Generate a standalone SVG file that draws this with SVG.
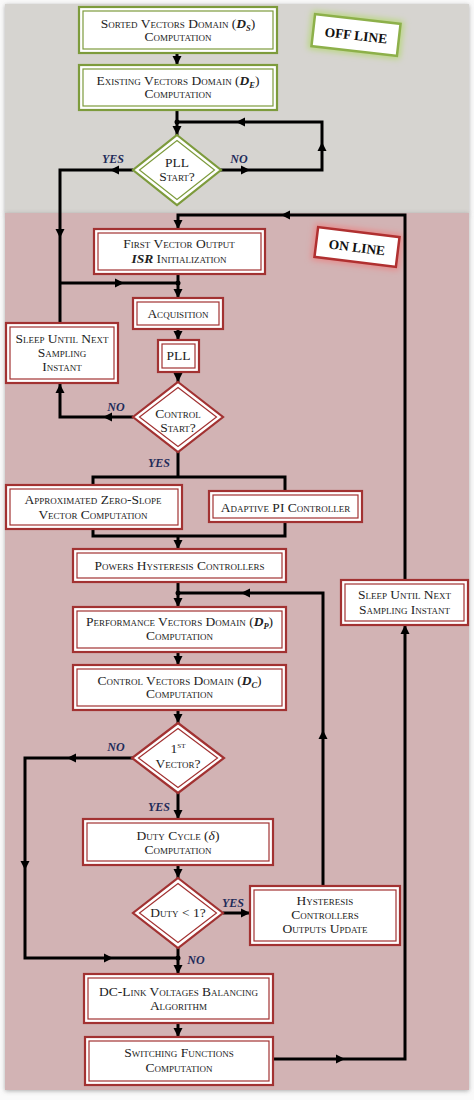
<svg xmlns="http://www.w3.org/2000/svg" xmlns:xlink="http://www.w3.org/1999/xlink" width="474" height="1100" viewBox="0 0 474 1100">
<style>
.t{font-family:"Liberation Serif","Times New Roman",serif;font-size:13.5px;font-variant:small-caps;text-anchor:middle;fill:#222}
.lb{font-family:"Liberation Serif","Times New Roman",serif;font-size:12px;font-weight:bold;font-style:italic;fill:#1f2b5a;text-anchor:middle}
.tag{font-family:"Liberation Serif","Times New Roman",serif;font-size:13.5px;font-weight:bold;text-anchor:middle;fill:#111}
.go{fill:#fff;stroke:#7d9b3c;stroke-width:2.2}
.gi{fill:none;stroke:#7d9b3c;stroke-width:1.2}
.ro{fill:#fff;stroke:#a23232;stroke-width:2.2}
.ri{fill:none;stroke:#a23232;stroke-width:1.2}
.w{fill:none;stroke:#000;stroke-width:3;stroke-linejoin:miter}
.bi{font-weight:bold;font-style:italic}
.nv{font-variant:normal}
</style>
<defs>
<path id="ar" d="M0,0 L-9,-4.5 L-9,4.5 Z" fill="#000"/>
<filter id="sh" x="-5%" y="-5%" width="110%" height="110%"><feDropShadow dx="0" dy="1" stdDeviation="2" flood-color="#777" flood-opacity="0.6"/></filter>
<filter id="bl" x="-30%" y="-30%" width="160%" height="160%"><feGaussianBlur stdDeviation="3"/></filter>
</defs>
<rect x="0" y="0" width="474" height="1100" fill="#fafafa"/>
<g id="panels">
<rect x="5" y="4" width="464" height="210" fill="#d6d4d0" filter="url(#sh)"/>
<rect x="5" y="213" width="464" height="877" fill="#d2b3b4" filter="url(#sh)"/>
</g>
<g id="offline">
<g transform="translate(356,35) rotate(6.5)">
<rect x="-46" y="-19" width="92" height="38" fill="#b7d77a" filter="url(#bl)"/>
<rect x="-43" y="-16" width="86" height="32" fill="#fff" stroke="#8db04a" stroke-width="2.5"/>
<text class="tag" x="0" y="5">OFF LINE</text>
</g>
</g>
<g id="online">
<g transform="translate(357,247) rotate(7)">
<rect x="-44" y="-18" width="88" height="36" fill="#e88888" filter="url(#bl)"/>
<rect x="-41" y="-15" width="82" height="30" fill="#fff" stroke="#b03030" stroke-width="2.5"/>
<text class="tag" x="0" y="5">ON LINE</text>
</g>
</g>
<g id="connectors">
<path class="w" d="M177,53 V65"/>
<path class="w" d="M177,110 V135"/>
<path class="w" d="M220,170 H322 V122 H177"/>
<path class="w" d="M133,170 H60 V323"/>
<path class="w" d="M60,283 H178"/>
<path class="w" d="M178,274 V298"/>
<path class="w" d="M178,329 V340"/>
<path class="w" d="M178,372 V382"/>
<path class="w" d="M133,417 H60 V384"/>
<path class="w" d="M178,452 V477 M93,485 V477 H285 V491"/>
<path class="w" d="M93,529 V536 H285 V522 M178,536 V549"/>
<path class="w" d="M178,582 V607"/>
<path class="w" d="M323,886 V593 H178"/>
<path class="w" d="M178,652 V665"/>
<path class="w" d="M178,710 V723"/>
<path class="w" d="M133,758 H25 V958 H178"/>
<path class="w" d="M178,793 V819"/>
<path class="w" d="M178,865 V878"/>
<path class="w" d="M223,913 H250"/>
<path class="w" d="M178,948 V974"/>
<path class="w" d="M178,1023 V1037"/>
<path class="w" d="M273,1059 H405 V625 M405,580 V215 H178 V229"/>
<circle cx="177" cy="122" r="2.5"/>
<circle cx="178" cy="283" r="2.5"/>
<circle cx="178" cy="593" r="2.5"/>
<circle cx="178" cy="958" r="2.5"/>
<use href="#ar" transform="translate(177,65) rotate(90)"/>
<use href="#ar" transform="translate(177,135) rotate(90)"/>
<use href="#ar" transform="translate(250,170)"/>
<use href="#ar" transform="translate(322,142) rotate(-90)"/>
<use href="#ar" transform="translate(236,122) rotate(180)"/>
<use href="#ar" transform="translate(110,170) rotate(180)"/>
<use href="#ar" transform="translate(60,238) rotate(90)"/>
<use href="#ar" transform="translate(124,283)"/>
<use href="#ar" transform="translate(178,298) rotate(90)"/>
<use href="#ar" transform="translate(178,340) rotate(90)"/>
<use href="#ar" transform="translate(178,382) rotate(90)"/>
<use href="#ar" transform="translate(103,417) rotate(180)"/>
<use href="#ar" transform="translate(60,384) rotate(-90)"/>
<use href="#ar" transform="translate(178,549) rotate(90)"/>
<use href="#ar" transform="translate(178,607) rotate(90)"/>
<use href="#ar" transform="translate(323,730) rotate(-90)"/>
<use href="#ar" transform="translate(241,593) rotate(180)"/>
<use href="#ar" transform="translate(178,665) rotate(90)"/>
<use href="#ar" transform="translate(178,723) rotate(90)"/>
<use href="#ar" transform="translate(67,758) rotate(180)"/>
<use href="#ar" transform="translate(25,870) rotate(90)"/>
<use href="#ar" transform="translate(113,958)"/>
<use href="#ar" transform="translate(178,819) rotate(90)"/>
<use href="#ar" transform="translate(178,878) rotate(90)"/>
<use href="#ar" transform="translate(250,913)"/>
<use href="#ar" transform="translate(178,974) rotate(90)"/>
<use href="#ar" transform="translate(178,1037) rotate(90)"/>
<use href="#ar" transform="translate(345,1059)"/>
<use href="#ar" transform="translate(405,625) rotate(-90)"/>
<use href="#ar" transform="translate(281,215) rotate(180)"/>
<use href="#ar" transform="translate(178,229) rotate(90)"/>
<text class="lb" x="113" y="163">YES</text>
<text class="lb" x="239" y="163">NO</text>
<text class="lb" x="116" y="411">NO</text>
<text class="lb" x="159" y="467">YES</text>
<text class="lb" x="116" y="751">NO</text>
<text class="lb" x="159" y="811">YES</text>
<text class="lb" x="233" y="907">YES</text>
<text class="lb" x="196" y="964">NO</text>
</g>
<g id="n1">
<rect class="go" x="79" y="7" width="198" height="46"/><rect class="gi" x="83" y="11" width="190" height="38"/>
<text class="t" x="178" y="28">Sorted Vectors Domain (<tspan class="bi">D</tspan><tspan class="bi" font-size="8.5" dy="3">S</tspan><tspan dy="-3">)</tspan></text>
<text class="t" x="178" y="41">Computation</text>
</g>
<g id="n2">
<rect class="go" x="79" y="65" width="198" height="45"/><rect class="gi" x="83" y="69" width="190" height="37"/>
<text class="t" x="178" y="85">Existing Vectors Domain (<tspan class="bi">D</tspan><tspan class="bi" font-size="8.5" dy="3">E</tspan><tspan dy="-3">)</tspan></text>
<text class="t" x="178" y="98">Computation</text>
</g>
<g id="d1">
<polygon class="go" points="177,135 221,170 177,205 133,170"/><polygon class="gi" points="177,140.5 214.5,170 177,199.5 139.5,170"/>
<text class="t" x="177" y="167">PLL</text>
<text class="t" x="177" y="181">Start?</text>
</g>
<g id="n3">
<rect class="ro" x="94" y="229" width="171" height="45"/><rect class="ri" x="98" y="233" width="163" height="37"/>
<text class="t" x="179" y="248">First Vector Output</text>
<text class="t" x="179" y="263"><tspan class="bi">ISR</tspan> Initialization</text>
</g>
<g id="n4">
<rect class="ro" x="133" y="298" width="90" height="31"/><rect class="ri" x="137" y="302" width="82" height="23"/>
<text class="t" x="178" y="318">Acquisition</text>
</g>
<g id="n5">
<rect class="ro" x="158" y="340" width="41" height="32"/><rect class="ri" x="162" y="344" width="33" height="24"/>
<text class="t" x="178.5" y="360">PLL</text>
</g>
<g id="n6">
<rect class="ro" x="6" y="323" width="112" height="60"/><rect class="ri" x="10" y="327" width="104" height="52"/>
<text class="t" x="62" y="343">Sleep Until Next</text>
<text class="t" x="62" y="357">Sampling</text>
<text class="t" x="62" y="371">Instant</text>
</g>
<g id="d2">
<polygon class="ro" points="178,382 223,417 178,452 133,417"/><polygon class="ri" points="178,387.5 216.5,417 178,446.5 139.5,417"/>
<text class="t" x="178" y="418">Control</text>
<text class="t" x="178" y="432">Start?</text>
</g>
<g id="n7">
<rect class="ro" x="6" y="485" width="176" height="44"/><rect class="ri" x="10" y="489" width="168" height="36"/>
<text class="t" x="93" y="504">Approximated Zero-Slope</text>
<text class="t" x="93" y="519">Vector Computation</text>
</g>
<g id="n8">
<rect class="ro" x="209" y="491" width="153" height="31"/><rect class="ri" x="213" y="495" width="145" height="23"/>
<text class="t" x="285.5" y="512">Adaptive PI Controller</text>
</g>
<g id="n9">
<rect class="ro" x="73" y="549" width="213" height="33"/><rect class="ri" x="77" y="553" width="205" height="25"/>
<text class="t" x="179.5" y="570">Powers Hysteresis Controllers</text>
</g>
<g id="n10">
<rect class="ro" x="73" y="607" width="213" height="45"/><rect class="ri" x="77" y="611" width="205" height="37"/>
<text class="t" x="179.5" y="626">Performance Vectors Domain (<tspan class="bi">D</tspan><tspan class="bi" font-size="8.5" dy="3">P</tspan><tspan dy="-3">)</tspan></text>
<text class="t" x="179.5" y="640">Computation</text>
</g>
<g id="n11">
<rect class="ro" x="341" y="580" width="127" height="45"/><rect class="ri" x="345" y="584" width="119" height="37"/>
<text class="t" x="404.5" y="599">Sleep Until Next</text>
<text class="t" x="404.5" y="614">Sampling Instant</text>
</g>
<g id="n12">
<rect class="ro" x="73" y="665" width="213" height="45"/><rect class="ri" x="77" y="669" width="205" height="37"/>
<text class="t" x="179.5" y="685">Control Vectors Domain (<tspan class="bi">D</tspan><tspan class="bi" font-size="8.5" dy="3">C</tspan><tspan dy="-3">)</tspan></text>
<text class="t" x="179.5" y="698">Computation</text>
</g>
<g id="d3">
<polygon class="ro" points="178,723 224,758 178,793 132,758"/><polygon class="ri" points="178,728.5 217.5,758 178,787.5 138.5,758"/>
<text class="t" x="178" y="753">1<tspan font-size="7" dy="-5">ST</tspan></text>
<text class="t" x="178" y="768">Vector?</text>
</g>
<g id="n13">
<rect class="ro" x="83" y="819" width="190" height="46"/><rect class="ri" x="87" y="823" width="182" height="38"/>
<text class="t" x="178" y="840">Duty Cycle (<tspan class="nv" font-style="italic">δ</tspan>)</text>
<text class="t" x="178" y="854">Computation</text>
</g>
<g id="d4">
<polygon class="ro" points="178,878 223,913 178,948 133,913"/><polygon class="ri" points="178,883.5 216.5,913 178,942.5 139.5,913"/>
<text class="t" x="178" y="917">Duty &lt; 1?</text>
</g>
<g id="n14">
<rect class="ro" x="250" y="886" width="150" height="59"/><rect class="ri" x="254" y="890" width="142" height="51"/>
<text class="t" x="325" y="905">Hysteresis</text>
<text class="t" x="325" y="919">Controllers</text>
<text class="t" x="325" y="933">Outputs Update</text>
</g>
<g id="n15">
<rect class="ro" x="84" y="974" width="189" height="49"/><rect class="ri" x="88" y="978" width="181" height="41"/>
<text class="t" x="178.5" y="996">DC-Link Voltages Balancing</text>
<text class="t" x="178.5" y="1010">Algorithm</text>
</g>
<g id="n16">
<rect class="ro" x="85" y="1037" width="188" height="48"/><rect class="ri" x="89" y="1041" width="180" height="40"/>
<text class="t" x="179" y="1057">Switching Functions</text>
<text class="t" x="179" y="1072">Computation</text>
</g>
</svg>
